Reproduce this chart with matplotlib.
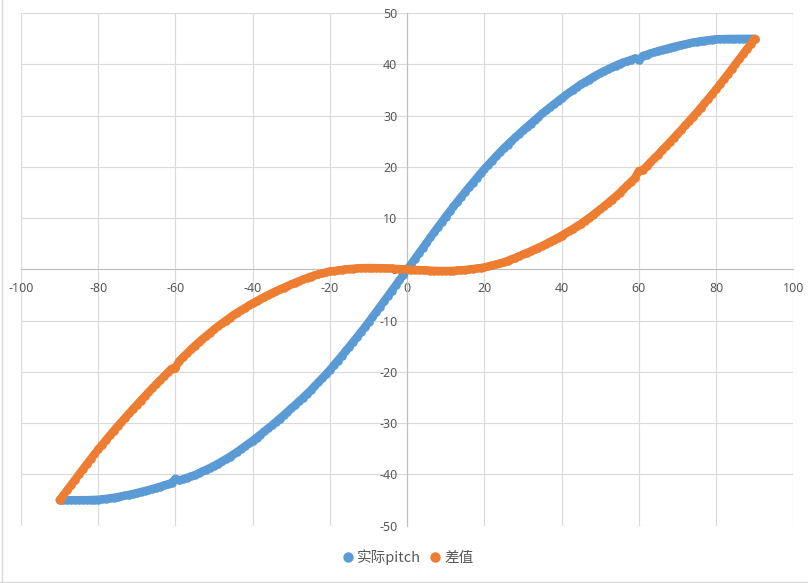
import matplotlib
matplotlib.use("Agg")
import matplotlib.pyplot as plt
from matplotlib.lines import Line2D

# ---------------- data ----------------
x_vals = list(range(-90, 91))

pitch_vals = [
    -45.00, -45.00, -45.00, -45.00, -45.00, -45.00, -44.99, -44.98, -44.96, -44.93,
    -44.90, -44.82, -44.73, -44.63, -44.52, -44.40, -44.25, -44.09, -43.93, -43.77,
    -43.60, -43.41, -43.21, -43.01, -42.81, -42.60, -42.37, -42.13, -41.89, -41.65,
    -40.80, -41.15, -40.89, -40.63, -40.37, -40.10, -39.76, -39.41, -39.05, -38.68,
    -38.30, -37.89, -37.46, -37.01, -36.56, -36.10, -35.57, -35.04, -34.50, -33.95,
    -33.40, -32.81, -32.22, -31.62, -31.01, -30.40, -29.75, -29.10, -28.44, -27.77,
    -27.10, -26.42, -25.73, -25.03, -24.32, -23.60, -22.82, -22.03, -21.23, -20.42,
    -19.60, -18.71, -17.81, -16.91, -16.01, -15.10, -14.16, -13.21, -12.26, -11.29,
    -10.30, -9.30, -8.28, -7.26, -6.23, -5.20, -4.17, -3.13, -2.09, -1.05,
    0.00,
    1.05, 2.09, 3.13, 4.17, 5.20, 6.23, 7.26, 8.28, 9.30, 10.30,
    11.29, 12.26, 13.21, 14.16, 15.10, 16.01, 16.91, 17.81, 18.71, 19.60,
    20.42, 21.23, 22.03, 22.82, 23.60, 24.32, 25.03, 25.73, 26.42, 27.10,
    27.77, 28.44, 29.10, 29.75, 30.40, 31.01, 31.62, 32.22, 32.81, 33.40,
    33.95, 34.50, 35.04, 35.57, 36.10, 36.56, 37.01, 37.46, 37.89, 38.30,
    38.68, 39.05, 39.41, 39.76, 40.10, 40.37, 40.63, 40.89, 41.15, 40.80,
    41.65, 41.89, 42.13, 42.37, 42.60, 42.81, 43.01, 43.21, 43.41, 43.60,
    43.77, 43.93, 44.09, 44.25, 44.40, 44.52, 44.63, 44.73, 44.82, 44.90,
    44.93, 44.96, 44.98, 44.99, 45.00, 45.00, 45.00, 45.00, 45.00, 45.00,
]

diff_vals = [
    -45.00, -44.00, -43.00, -42.00, -41.00, -40.00, -39.01, -38.02, -37.04, -36.07,
    -35.10, -34.18, -33.27, -32.37, -31.48, -30.60, -29.75, -28.91, -28.07, -27.23,
    -26.40, -25.59, -24.79, -23.99, -23.19, -22.40, -21.63, -20.87, -20.11, -19.35,
    -19.20, -17.85, -17.11, -16.37, -15.63, -14.90, -14.24, -13.59, -12.95, -12.32,
    -11.70, -11.11, -10.54, -9.99, -9.44, -8.90, -8.43, -7.96, -7.50, -7.05,
    -6.60, -6.19, -5.78, -5.38, -4.99, -4.60, -4.25, -3.90, -3.56, -3.23,
    -2.90, -2.58, -2.27, -1.97, -1.68, -1.40, -1.18, -0.97, -0.77, -0.58,
    -0.40, -0.29, -0.19, -0.09, 0.01, 0.10, 0.16, 0.21, 0.26, 0.29,
    0.30, 0.30, 0.28, 0.26, 0.23, 0.20, 0.17, 0.13, 0.09, 0.05,
    0.00,
    -0.05, -0.09, -0.13, -0.17, -0.20, -0.23, -0.26, -0.28, -0.30, -0.30,
    -0.29, -0.26, -0.21, -0.16, -0.10, -0.01, 0.09, 0.19, 0.29, 0.40,
    0.58, 0.77, 0.97, 1.18, 1.40, 1.68, 1.97, 2.27, 2.58, 2.90,
    3.23, 3.56, 3.90, 4.25, 4.60, 4.99, 5.38, 5.78, 6.19, 6.60,
    7.05, 7.50, 7.96, 8.43, 8.90, 9.44, 9.99, 10.54, 11.11, 11.70,
    12.32, 12.95, 13.59, 14.24, 14.90, 15.63, 16.37, 17.11, 17.85, 19.20,
    19.35, 20.11, 20.87, 21.63, 22.40, 23.19, 23.99, 24.79, 25.59, 26.40,
    27.23, 28.07, 28.91, 29.75, 30.60, 31.48, 32.37, 33.27, 34.18, 35.10,
    36.07, 37.04, 38.02, 39.01, 40.00, 41.00, 42.00, 43.00, 44.00, 45.00,
]

series_names = ["实际pitch", "差值"]
series_colors = ["#5B9BD5", "#ED7D31"]
x_ticks = list(range(-100, 101, 20))
y_ticks = list(range(-50, 51, 10))

# ---------------- figure ----------------
plt.rcParams['font.family'] = ['Noto Sans CJK SC', 'DejaVu Sans']
plt.rcParams['axes.unicode_minus'] = False

fig = plt.figure(figsize=(8.08, 5.83), dpi=100)
ax = fig.add_axes([21/808, 1 - 525.7/583, (793.3 - 21)/808, (525.7 - 13)/583])

ax.set_xlim(-100, 100)
ax.set_ylim(-50, 50)
ax.set_xticks(x_ticks)
ax.set_yticks(y_ticks)
ax.grid(True, color="#d9d9d9", linewidth=0.8, zorder=0)
ax.set_axisbelow(True)

for sp in ["top", "right"]:
    ax.spines[sp].set_visible(False)
ax.spines["left"].set_position(("data", 0))
ax.spines["bottom"].set_position(("data", 0))
for sp in ["left", "bottom"]:
    ax.spines[sp].set_color("#bfbfbf")
    ax.spines[sp].set_linewidth(0.8)
    ax.spines[sp].set_zorder(1)

ax.tick_params(axis="both", length=0, labelsize=9, labelcolor="#595959")
ax.tick_params(axis="x", pad=9)
ax.tick_params(axis="y", pad=7)
for lab in ax.get_xticklabels() + ax.get_yticklabels():
    lab.set_fontfamily(["Noto Sans", "DejaVu Sans"])

for yv, name, col, z in [(pitch_vals, series_names[0], series_colors[0], 3),
                         (diff_vals, series_names[1], series_colors[1], 4)]:
    ax.plot(x_vals, yv, color=col, linewidth=5.8, solid_capstyle="round",
            solid_joinstyle="round", marker="o", markersize=6.2,
            markeredgewidth=0, zorder=z, clip_on=False)

handles = [Line2D([], [], linestyle="none", marker="o", markersize=7.5,
                  markeredgewidth=0, color=c) for c in series_colors]
fig.legend(handles, series_names, loc="center", bbox_to_anchor=(407/808, 1 - 557/583),
           ncol=2, frameon=False, fontsize=10.5, handletextpad=0.1,
           columnspacing=0.5, handlelength=1.0, labelcolor="#595959")

# chart-area border (left and bottom visible in the reference)
fig.add_artist(Line2D([1.5/808, 1.5/808], [0, 1], transform=fig.transFigure,
                      color="#d9d9d9", linewidth=1))
fig.add_artist(Line2D([0, 1], [1.5/583, 1.5/583], transform=fig.transFigure,
                      color="#d9d9d9", linewidth=1))

fig.savefig("out.png", dpi=100)
